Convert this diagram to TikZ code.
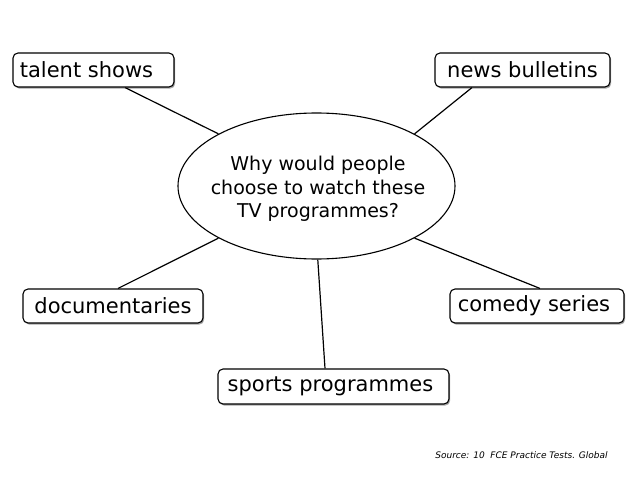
\documentclass[tikz,border=0pt]{standalone}
\usepackage{fontspec}
\setmainfont{DejaVu Sans}
\usetikzlibrary{shapes.geometric,shadows,backgrounds}
\tikzset{
  topicbox/.style={draw=black, line width=1.1pt, rounded corners=5pt, fill=white,
    inner sep=0pt, minimum height=34pt, font=\fontsize{21}{24}\selectfont,
    drop shadow={shadow xshift=1.2pt, shadow yshift=-1.6pt, opacity=0.35, fill=black}},
  centre/.style={draw=black, line width=1.1pt, ellipse, inner sep=0pt,
    minimum width=277pt, minimum height=146pt},
  centretext/.style={inner sep=0pt, align=center, font=\fontsize{19}{23.3}\selectfont},
  link/.style={draw=black, line width=1.2pt}
}
\begin{document}
\begin{tikzpicture}[x=1pt,y=-1pt]
\useasboundingbox (0,0) rectangle (638,479);
\node[centre] (q) at (316.5,186) {};
\node[centretext] (qt) at (318,189) {Why would people\\choose to watch these\\TV programmes?};
\node[topicbox, minimum width=161pt] (talent) at (93.5,70) {talent shows\hspace*{14pt}};
\node[topicbox, minimum width=175pt] (news) at (522.5,70) {news bulletins};
\node[topicbox, minimum width=180pt] (docs) at (113,306) {documentaries};
\node[topicbox, minimum width=174pt] (comedy) at (537,306) {comedy series\hspace*{6pt}};
\node[topicbox, minimum width=231pt, minimum height=35pt] (sports) at (333.5,386.5) {sports programmes\hspace*{6pt}};
\node[font=\fontsize{9}{11}\selectfont\itshape] (src) at (521.5,455) {Source: 10\ \ FCE Practice Tests. Global};
\begin{scope}[on background layer]
\draw[link] ([xshift=31.5pt]talent.south) -- (q.152);
\draw[link] ([xshift=-50.5pt]news.south) -- (q.28);
\draw[link] ([xshift=5pt]docs.north) -- (q.208);
\draw[link] ([xshift=3pt]comedy.north) -- (q.332);
\draw[link] ([xshift=-8.5pt]sports.north) -- (q.271);
\end{scope}
\end{tikzpicture}
\end{document}
